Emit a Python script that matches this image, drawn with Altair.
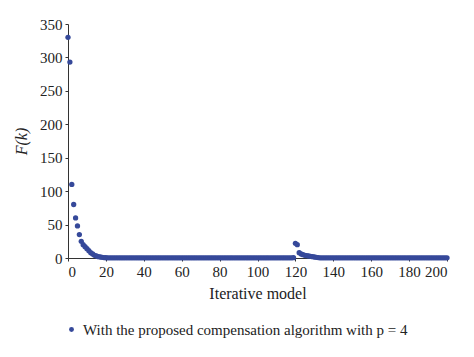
import altair as alt
import pandas as pd

# Iteration index and F(k) values
k_head = list(range(0, 21))
f_head = [330, 293, 110, 80, 60, 48, 35, 25, 20, 17, 14, 11, 8, 6, 4, 3, 2, 1.5, 1, 0.6, 0.4]
k_mid = list(range(21, 119))
f_mid = [0.3] * len(k_mid)
k_bump = list(range(119, 133))
f_bump = [0.5, 22, 20, 8, 6, 5, 4, 3.5, 3, 2.5, 2, 1.5, 1, 0.6]
k_tail = list(range(133, 201))
f_tail = [0.3] * len(k_tail)

series_name = "With the proposed compensation algorithm with p = 4"

df = pd.DataFrame({
    "k": k_head + k_mid + k_bump + k_tail,
    "F": f_head + f_mid + f_bump + f_tail,
    "series": series_name,
})

FONT = "Liberation Serif"
COLOR = "#36499a"

chart = alt.Chart(df).mark_circle(size=28, opacity=1, color=COLOR).encode(
    x=alt.X("k:Q", scale=alt.Scale(domain=[0, 200], nice=False),
            axis=alt.Axis(values=list(range(0, 201, 20)), title="Iterative model",
                          grid=False, tickSize=3, labelPadding=3, titlePadding=6)),
    y=alt.Y("F:Q", scale=alt.Scale(domain=[0, 350], nice=False),
            axis=alt.Axis(values=list(range(0, 351, 50)), title="F(k)",
                          grid=False, tickSize=3, labelPadding=3, titlePadding=10,
                          titleFontStyle="italic")),
    color=alt.Color("series:N", scale=alt.Scale(range=[COLOR]),
                    legend=alt.Legend(title=None, orient="none", legendX=-4, legendY=298,
                                      symbolSize=24, symbolType="circle",
                                      labelFont=FONT, labelFontSize=15, labelColor="#222",
                                      labelLimit=500)),
).properties(
    width=379, height=234,
    autosize=alt.AutoSizeParams(type="none"),
    padding={"left": 68, "top": 24, "right": 27, "bottom": 99},
).configure_view(stroke=None).configure_axis(
    labelFont=FONT, titleFont=FONT, labelFontSize=15, titleFontSize=16,
    labelColor="#222", titleColor="#222", domainColor="#333", tickColor="#333",
    titleFontWeight="normal",
)

chart.save("out.html", embed_options={"renderer": "svg", "actions": False})
